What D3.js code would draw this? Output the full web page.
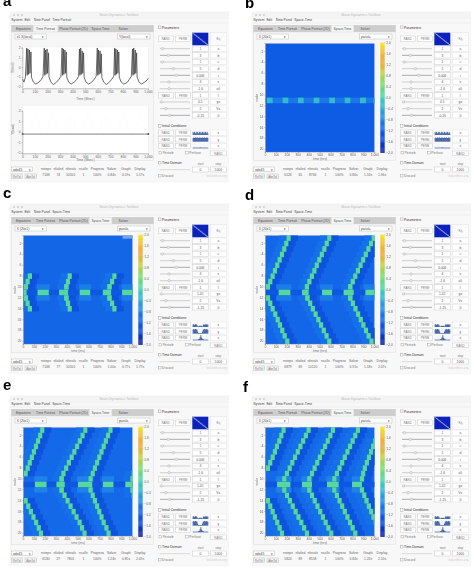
<!DOCTYPE html>
<html>
<head>
<meta charset="utf-8">
<title>Brain Dynamics Toolbox</title>
<script src="https://d3js.org/d3.v7.min.js"></script>
<style>
html, body { margin: 0; padding: 0; background: #fff; }
svg { display: block; }
text { font-family: "Liberation Sans", sans-serif; }
.soft { filter: blur(0.6px); }
</style>
</head>
<body>
<svg id="fig" width="474" height="568"></svg>
<script>
// menus and tabs
var tabNames = ["Equations", "Time Portrait", "Phase Portrait (2D)", "Space-Time", "Solver"];
var menuA = ["System", "Edit", "New Panel", "Time Portrait"];
var menuB = ["System", "Edit", "New Panel", "Space-Time"];
var statHead = ["nsteps", "nfailed", "nfevals", "ncalls", "Progress", "Solver", "Graph", "Display"];
var statA = ["7168", "74", "10501", "1", "100%", "0.84s", "0.19s", "1.17s"];
var statB = ["6126", "65", "8766", "1", "100%", "0.80s", "1.16s", "1.96s"];
var statC = ["7168", "77", "10501", "1", "100%", "1.00s", "0.77s", "1.77s"];
var statD = ["6879", "69", "10120", "1", "100%", "0.91s", "1.18s", "2.07s"];
var statE = ["6530", "27", "7801", "1", "100%", "1.24s", "0.85s", "2.09s"];
var statF = ["5824", "89", "8558", "1", "100%", "0.84s", "1.26s", "2.10s"];

// parameter rows
var paramNames = ["a", "b", "c", "d", "r", "s", "x0", "I", "gs", "Vs", "θ"];
var paramVals = ["1", "3", "1", "5", "0.006", "4", "-1.6", "1", "0.1", "2", "-0.25"];
var paramVals2 = ["1", "3", "1", "5", "0.006", "4", "-1.6", "1", "1.41", "2", "-1.25"];
var sliderPos = [0.08, 0.28, 0.08, 0.45, 0.55, 0.3, 0.3, 0, 0.05, 0.2, 0.32];
var icNames = ["x", "y", "z"];
var trainTicks = [2, 4, 6, 8, 10, 12, 14, 16, 18, 20];
var timeTicks = [0, 100, 200, 300, 400, 500, 600, 700, 800, 900, 1000];
var cbarTicks = [-2, -1.6, -1.2, -0.8, -0.4, 0, 0.4, 0.8, 1.2, 1.6, 2];

// initial condition thumbnails, 20 nodes each
var icFlatX = [.5,.2,.5,.2,.5,.2,.5,.2,.5,.2,.5,.2,.5,.2,.5,.2,.5,.2,.5,.2];
var icFlatY = [.6,.7,.6,.7,.6,.7,.7,.6,.7,.6,.7,.6,.7,.6,.7,.7,.6,.7,.6,.7];
var icFlatZ = [0,0,0,0,0,0,0,0,0,.05,.05,0,0,0,0,0,0,0,0,0];
var icBumpX = [.4,.4,.3,.4,.4,.3,0,0,.1,.1,.1,.1,0,.3,.4,.3,.4,.4,.3,.4];
var icBumpY = [.7,.8,.7,.8,.7,.7,.3,0,0,0,0,0,.3,.7,.7,.8,.7,.8,.7,.7];
var icBumpZ = [0,0,0,0,0,0,0,.1,.2,.5,.9,.4,.2,.1,0,0,0,0,0,0];

// panel a, top trace (msec, x)
var traceT = [0,10,22,32,36,42,46,54,58,66,70,85,105,130,150,162,
  172,176,182,186,194,198,206,210,225,245,270,290,305,
  314,318,324,328,336,340,347,351,366,386,410,430,445,
  452,456,462,466,474,478,485,489,504,525,550,570,585,
  594,598,604,608,616,620,626,630,645,665,690,710,725,
  732,736,742,746,754,758,765,769,784,805,830,850,865,
  874,878,884,888,896,900,907,911,926,945,970,990,1000];
var traceV = [-1.2,-1.5,-1,2,-.8,1.9,-.7,1.8,-.6,1.6,-1,-1.5,-1.7,-1.5,-1.2,-.9,
  2,-.8,1.8,-.7,1.9,-.6,1.5,-1,-1.5,-1.75,-1.5,-1.2,-.9,
  2,-.8,1.9,-.7,1.8,-.6,1.6,-1,-1.5,-1.7,-1.5,-1.25,-.9,
  1.9,-.8,2,-.7,1.7,-.6,1.5,-1,-1.5,-1.7,-1.5,-1.2,-.9,
  2,-.8,1.8,-.7,1.7,-.6,1.4,-1,-1.5,-1.75,-1.5,-1.2,-.9,
  2,-.8,1.9,-.7,1.8,-.6,1.6,-1,-1.5,-1.7,-1.55,-1.2,-.9,
  1.9,-.8,2,-.7,1.8,-.6,1.5,-1,-1.5,-1.7,-1.5,-1.3,-1.1];
// panel a, lower plot
var lowT = [0,1000];
var lowV = [-.2,-.2];
var archT = [50,75,100,125,150,null,190,215,240,265,290,null,330,355,380,405,430,null,470,495,520,545,570,null,610,635,660,685,710,null,750,775,800,825,850,null,890,915,940,965];
var archV = [0,1,1.5,1,0,null,0,1.1,1.6,1,0,null,0,1,1.5,1.1,0,null,0,1,1.7,1,0,null,0,1.1,1.5,1,0,null,0,1,1.6,1,0,null,0,1.1,1.5,.8];

// panel b
var bPatches = [[15,67],[158,210],[299,351],[442,494],[585,637],[726,778],[866,920],[990,1000]];

// panel c
var cFronts = [
  [null,null,null,null,null,null,null,45,24,9,null,9,24,45,null,null,null,null,null,null],
  [null,null,null,null,null,null,null,409,394,379,null,379,394,409,null,null,null,null,null,null],
  [null,null,null,null,null,null,null,818,797,773,null,773,797,818,null,null,null,null,null,null]];
var cPatches = [[0,30],[130,233],[327,409],[515,612],[727,803],[903,1000]];
var cHalos = [[125,240],[510,620],[900,1000]];

// panel d
var dFronts = [
  [198,177,158,137,116,94,73,52,30,9,null,9,30,52,76,98,119,140,162,186],
  [570,547,525,502,479,456,434,411,388,366,null,370,395,420,445,470,495,520,545,570],
  [976,952,928,904,880,856,832,808,785,762,null,762,786,810,834,858,882,906,930,956]];
var dPatches = [[122,229],[335,396],[518,610],[716,808],[915,1000]];
var dHalos = [[100,240],[500,620],[900,1000]];

// panel e
var eFronts = [
  [158,139,120,101,82,63,44,25,6,null,null,null,null,6,30,54,78,102,126,146],
  [552,527,502,477,452,427,402,377,352,335,null,335,362,390,417,445,472,500,522,545],
  [782,760,740,720,700,680,660,640,620,600,null,600,620,640,660,680,700,720,745,765],
  [null,null,null,null,null,null,null,null,995,985,null,985,995,null,null,null,null,null,null,null]];
var ePatches = [[106,212],[303,379],[500,630],[727,824],[933,1000]];
var eHalos = [[100,220],[490,640],[720,830]];

// panel f
var fFronts = [
  [152,131,113,91,73,52,30,9,null,null,null,null,null,9,30,52,73,94,116,137],
  [381,356,331,306,282,257,232,208,183,158,null,158,184,210,236,262,288,314,340,366],
  [604,580,556,532,508,484,460,436,412,387,null,387,412,437,462,487,512,537,562,588],
  [832,808,784,760,736,712,688,664,640,616,null,616,640,664,688,712,736,760,784,808],
  [null,null,990,971,952,933,914,895,880,869,null,869,890,911,932,953,974,995,null,null]];
var fPatches = [[107,229],[335,427],[564,671],[793,884]];
var fHalos = [[100,240],[330,430],[560,680],[790,890]];

// colour map
var colorVals = [-2, -1.55, -1.2, -0.9, -0.5, -0.2, 0.1, 0.5, 0.9, 1.3, 1.7, 2];
var colorHex = ["#0a1a9c", "#0b48d6", "#0f5fe6", "#1a78ea", "#2aa0e0", "#35c0c8", "#52d6a2", "#7cdc6c", "#c8d040", "#eca838", "#f2c02c", "#f8f020"];
var heat = d3.scaleLinear().domain(colorVals).range(colorHex).clamp(true);

var svg = d3.select("#fig");
var root = svg.append("g").attr("class", "soft");

function label(g, x, y, s, size, anchor, fill) {
  return g.append("text").attr("x", x).attr("y", y).text(s)
    .attr("font-size", size || 11)
    .attr("text-anchor", anchor || "start")
    .attr("fill", fill || "#777");
}
function box(g, x, y, w, h, fill, stroke) {
  return g.append("rect").attr("x", x).attr("y", y).attr("width", w).attr("height", h)
    .attr("fill", fill || "#fff").attr("stroke", stroke || "#ccc").attr("stroke-width", 1.5);
}

function styleAxis(a) {
  a.selectAll("path,line").attr("stroke", "#888").attr("stroke-width", 1.5);
  a.selectAll("text").attr("font-size", 10).attr("fill", "#666");
}

function drawShell(g, p) {
  box(g, 0, 0, 655, 510, "#f8f8f8", "#f2f2f2");
  box(g, 0, 0, 655, 20, "#f4f4f4", "#f2f2f2");
  [12, 24, 36].forEach(function (x) {
    g.append("circle").attr("cx", x).attr("cy", 9).attr("r", 3).attr("fill", "#ccc");
  });
  label(g, 327, 12, "Brain Dynamics Toolbox", 11, "middle", "#bbb");
  var mx = 4;
  p.menu.forEach(function (m) {
    label(g, mx, 28, m, 10, "start", "#444");
    mx += m.length * 5.2 + 8;
  });
  g.append("line").attr("x1", 0).attr("x2", 655).attr("y1", 33).attr("y2", 33).attr("stroke", "#ddd");

  // tabs
  box(g, 5, 40, 425, 20, "#cdcdcd", "#c8c8c8");
  var tabX = [10, 70, 143, 238, 305], tabW = [60, 73, 95, 67, 125];
  tabNames.forEach(function (t, i) {
    if (i === p.tab) g.append("rect").attr("x", tabX[i]).attr("y", 40).attr("width", tabW[i]).attr("height", 22).attr("fill", "#f5f5f5");
    label(g, tabX[i] + (i === 4 ? 35 : tabW[i] / 2), 54, t, 10, "middle", "#555");
  });
  box(g, 5, 60, 425, 385, "#f6f6f6", "#ddd");

  // dropdowns
  box(g, 15, 66, 95, 15, "#fff", "#bbb");
  label(g, 20, 77, p.left, 10, "start", "#444");
  label(g, 103, 77, "▾", 10, "end", "#222");
  box(g, 322, 66, 98, 15, "#fff", "#bbb");
  label(g, 327, 77, p.right, 10, "start", "#444");
  label(g, 415, 77, "▾", 10, "end", "#222");

  // solver bar
  box(g, 5, 465, 62, 14, "#fff", "#bbb");
  label(g, 9, 476, "ode45", 10, "start", "#444");
  label(g, 62, 476, "▾", 10, "end", "#222");
  box(g, 5, 486, 33, 14, "#f6f6f6", "#bbb");
  box(g, 45, 486, 34, 14, "#f6f6f6", "#bbb");
  label(g, 21, 497, "RelTol", 9, "middle");
  label(g, 62, 497, "AbsTol", 9, "middle");
  var statX = [108, 145, 182, 220, 262, 305, 348, 390];
  statHead.forEach(function (h, i) {
    label(g, statX[i], 474, h, 10, "middle", "#666");
    label(g, statX[i], 492, p.stats[i], 10, "middle", "#666");
  });
}

function checkbox(g, x, y, s, bold) {
  box(g, x, y - 8, 8, 8, "#fff", "#aaa");
  label(g, x + 11, y, s, 10, "start", bold ? "#333" : "#777");
}

function drawControls(g, p) {
  checkbox(g, 445, 50, "Parameters", true);
  box(g, 445, 72, 45, 16); label(g, 467, 84, "RAND", 9, "middle");
  box(g, 497, 72, 45, 16); label(g, 519, 84, "PERM", 9, "middle");

  // coupling matrix
  var mx = d3.scaleBand().domain(d3.range(20)).range([547, 595]);
  var my = d3.scaleBand().domain(d3.range(20)).range([62, 100]);
  var m = g.append("g");
  m.append("rect").attr("x", 547).attr("y", 62).attr("width", 48).attr("height", 38).attr("fill", "#0b22bd");
  d3.range(20).forEach(function (i) {
    m.append("rect").attr("x", mx(i)).attr("y", my(i)).attr("width", mx.bandwidth() * 1.5).attr("height", my.bandwidth() * 1.5).attr("fill", "#9aa6c8");
  });
  box(g, 601, 62, 48, 38, "#fbfbfb", "#e4e4e4");
  label(g, 625, 84, "Kij", 10, "middle");

  // parameter sliders
  var rows = [110, 130, 150, 170, 190, 210, 230, 250, 270, 290, 310];
  var sx = d3.scaleLinear().domain([0, 1]).range([450, 540]);
  paramNames.forEach(function (n, i) {
    var y = rows[i];
    if (i === 7) {
      box(g, 445, y - 8, 45, 16); label(g, 467, y + 4, "RAND", 9, "middle");
      box(g, 497, y - 8, 45, 16); label(g, 519, y + 4, "PERM", 9, "middle");
    } else {
      g.append("line").attr("x1", sx(0)).attr("x2", sx(1)).attr("y1", y).attr("y2", y)
        .attr("stroke", i % 3 === 1 ? "#888" : "#bbb").attr("stroke-width", 2);
      g.append("circle").attr("cx", sx(sliderPos[i])).attr("cy", y).attr("r", 4).attr("fill", "#e4e4e4").attr("stroke", "#aaa");
    }
    box(g, 548, y - 8, 47, 16, "#fff", "#ccc");
    label(g, 571, y + 4, p.vals[i], 10, "middle", "#555");
    box(g, 602, y - 8, 47, 16, "#fff", "#e4e4e4");
    label(g, 625, y + 4, n, 10, "middle", "#555");
  });

  checkbox(g, 445, 346, "Initial Conditions", true);
  var icy = [362, 382, 402];
  icNames.forEach(function (n, i) {
    var y = icy[i];
    box(g, 445, y - 8, 45, 16); label(g, 467, y + 4, "RAND", 9, "middle");
    box(g, 497, y - 8, 45, 16); label(g, 519, y + 4, "PERM", 9, "middle");
    var bx = d3.scaleBand().domain(d3.range(20)).range([548, 595]).padding(0.1);
    var by = d3.scaleLinear().domain([0, 1]).range([y + 7, y - 8]);
    g.append("g").selectAll("rect").data(p.ic[i]).join("rect")
      .attr("x", function (d, j) { return bx(j); })
      .attr("y", function (d) { return by(d) - 2; })
      .attr("width", bx.bandwidth())
      .attr("height", function (d) { return by(0) - by(d) + 2; })
      .attr("fill", "#123a8c");
    box(g, 602, y - 8, 47, 16, "#fff", "#e4e4e4");
    label(g, 625, y + 4, n, 10, "middle", "#555");
  });
  checkbox(g, 447, 426, "Perturb");
  checkbox(g, 527, 426, "Perfuse");
  box(g, 602, 417, 47, 14); label(g, 625, 428, "RAND", 9, "middle");

  checkbox(g, 445, 456, "Time Domain", true);
  label(g, 572, 459, "start", 9, "middle");
  label(g, 625, 459, "stop", 9, "middle");
  g.append("line").attr("x1", 450).attr("x2", 540).attr("y1", 473).attr("y2", 473).attr("stroke", "#ccc").attr("stroke-width", 2);
  box(g, 548, 465, 47, 15); label(g, 571, 477, "0", 10, "middle", "#555");
  box(g, 602, 465, 47, 15); label(g, 625, 477, "1000", 10, "middle", "#555");
  checkbox(g, 445, 495, "Discard");
  label(g, 650, 495, "bdtoolbox.org", 10, "end", "#d0d0d0");
}

function drawTime(g) {
  var xt = d3.scaleLinear().domain([0, 1000]).range([38, 415]);
  var yTop = d3.scaleLinear().domain([-2, 2]).range([225, 108]);
  var yLow = d3.scaleLinear().domain([-2, 2]).range([423, 297]);
  box(g, 38, 105, 377, 125, "#fff", "#eee");
  box(g, 38, 280, 377, 145, "#fff", "#eee");

  var low = d3.line().defined(function (d) { return d[1] !== null; })
    .x(function (d) { return xt(d[0]); })
    .y(function (d) { return d.y(d[1]); });

  var topPts = traceT.map(function (t, i) { var d = [t, traceV[i]]; d.y = yTop; return d; });
  g.append("path").attr("d", low(topPts)).attr("fill", "none").attr("stroke", "#444").attr("stroke-width", 2.4);

  var archPts = archT.map(function (t, i) { var d = [t, archV[i]]; d.y = yLow; return d; });
  g.append("path").attr("d", low(archPts)).attr("fill", "none").attr("stroke", "#eee").attr("stroke-width", 1.5).attr("stroke-dasharray", "3 4");
  var lowPts = lowT.map(function (t, i) { var d = [t, lowV[i]]; d.y = yLow; return d; });
  g.append("path").attr("d", low(lowPts)).attr("fill", "none").attr("stroke", "#666").attr("stroke-width", 2.5);
  lowPts.forEach(function (d) {
    g.append("circle").attr("cx", xt(d[0])).attr("cy", yLow(d[1])).attr("r", 3).attr("fill", "#555");
  });

  var a1 = g.append("g").attr("transform", "translate(0,230)").call(d3.axisBottom(xt).tickValues(timeTicks).tickSize(3));
  var a2 = g.append("g").attr("transform", "translate(38,0)").call(d3.axisLeft(yTop).ticks(5).tickFormat(d3.format("d")).tickSize(3));
  var a3 = g.append("g").attr("transform", "translate(0,425)").call(d3.axisBottom(xt).tickValues(timeTicks).tickSize(3));
  var a4 = g.append("g").attr("transform", "translate(38,0)").call(d3.axisLeft(yLow).ticks(5).tickFormat(d3.format("d")).tickSize(3));
  [a1, a2, a3, a4].forEach(styleAxis);
  label(g, 226, 264, "Time (Msec)", 10, "middle");
  label(g, 226, 447, "Time (Msec)", 10, "middle");
  label(g, 12, 168, "X(local)", 9, "middle").attr("transform", "rotate(-90 12 168)");
  label(g, 12, 352, "Y(local)", 9, "middle").attr("transform", "rotate(-90 12 352)");
}

function drawHeat(g, p, id) {
  var x = d3.scaleLinear().domain([0, 1000]).range([p.hx, p.hx + 328]);
  var y = d3.scaleBand().domain(d3.range(20)).range([p.hy, p.hy + 326]);
  var h = y.bandwidth();

  g.append("clipPath").attr("id", "clip" + id).append("rect")
    .attr("x", p.hx).attr("y", p.hy).attr("width", 328).attr("height", 326);
  var m = g.append("g").attr("clip-path", "url(#clip" + id + ")");

  function cell(t0, t1, r, rows, v) {
    m.append("rect").attr("x", x(t0)).attr("y", y(r)).attr("width", x(t1) - x(t0)).attr("height", h * rows + 0.3).attr("fill", heat(v));
  }
  cell(0, 1000, 0, 20, p.base);

  // light lead-in then dark wake around every front cell
  p.fronts.forEach(function (f) {
    f.forEach(function (t, r) { if (t !== null) cell(t - 70, t, r, 1, -1.0); });
  });
  p.fronts.forEach(function (f) {
    f.forEach(function (t, r) { if (t !== null) cell(t + 30, t + 100, r, 1, -1.38); });
  });
  p.fronts.forEach(function (f) {
    f.forEach(function (t, r) { if (t !== null) cell(t - 4, t + 34, r, 1, 0.15); });
  });

  p.halos.forEach(function (b) {
    cell(b[0], b[1], 9, 1, p.haloVal);
    cell(b[0], b[1], 11, 1, p.haloVal);
  });
  p.fronts.forEach(function (f) {
    [9, 11].forEach(function (r) { if (f[r] !== null) cell(f[r] - 4, f[r] + 34, r, 1, 0.15); });
  });
  cell(0, 1000, 10, 1, p.rowVal);
  p.patches.forEach(function (b) { cell(b[0], b[1], 10, 1, p.patchVal); });

  if (p.tool) {
    m.append("rect").attr("x", p.hx + 298).attr("y", p.hy).attr("width", 30).attr("height", 10).attr("fill", "#7aa4e8");
  }

  // axes
  var ax = g.append("g").attr("transform", "translate(0," + (p.hy + 326) + ")")
    .call(d3.axisBottom(x).tickValues(timeTicks).tickSize(3));
  var ay = g.append("g").attr("transform", "translate(" + p.hx + ",0)")
    .call(d3.axisLeft(y).tickValues(trainTicks.map(function (d) { return d - 1; })).tickFormat(function (d) { return d + 1; }).tickSize(3));
  styleAxis(ax); styleAxis(ay);
  label(g, p.hx + 164, p.hy + 350, "time (ms)", 10, "middle");
  label(g, p.hx - 22, p.hy + 163, "node", 10, "middle").attr("transform", "rotate(-90 " + (p.hx - 22) + " " + (p.hy + 163) + ")");

  // colour bar
  var cy = d3.scaleLinear().domain([-2, 2]).range([p.hy + 328, p.hy - 2]);
  var steps = d3.range(-2, 2, 0.04);
  g.append("g").selectAll("rect").data(steps).join("rect")
    .attr("x", p.hx + 345).attr("width", 13)
    .attr("y", function (d) { return cy(d + 0.04); })
    .attr("height", function (d) { return cy(d) - cy(d + 0.04) + 0.5; })
    .attr("fill", function (d) { return heat(d); });
  var ac = g.append("g").attr("transform", "translate(" + (p.hx + 358) + ",0)")
    .call(d3.axisRight(cy).tickValues(cbarTicks).tickFormat(d3.format(".1f")).tickSize(2));
  styleAxis(ac);
  ac.select(".domain").attr("stroke", "none");
}

var panels = [
  { name: "a", lx: 3, ly: 6, wx: 10, wy: 12, tab: 1, menu: menuA, stats: statA, left: "x1 X(local)", right: "Y(local)", vals: paramVals, ic: [icFlatX, icFlatY, icFlatZ] },
  { name: "b", lx: 245, ly: 8, wx: 252, wy: 12, tab: 3, menu: menuB, stats: statB, left: "X (20x1)", right: "parula", vals: paramVals, ic: [icFlatX, icFlatY, icFlatZ],
    fronts: [], patches: bPatches, halos: [], base: -1.25, haloVal: -1.2, rowVal: -0.9, patchVal: -0.25 },
  { name: "c", lx: 3, ly: 198, wx: 10, wy: 204, tab: 3, menu: menuB, stats: statC, left: "X (20x1)", right: "parula", vals: paramVals2, ic: [icBumpX, icBumpY, icBumpZ], tool: true,
    fronts: cFronts, patches: cPatches, halos: cHalos, base: -1.1, haloVal: -0.85, rowVal: -1.3, patchVal: 0.1 },
  { name: "d", lx: 245, ly: 200, wx: 252, wy: 204, tab: 3, menu: menuB, stats: statD, left: "X (20x1)", right: "parula", vals: paramVals2, ic: [icBumpX, icBumpY, icBumpZ],
    fronts: dFronts, patches: dPatches, halos: dHalos, base: -1.12, haloVal: -0.85, rowVal: -1.3, patchVal: 0.15 },
  { name: "e", lx: 3, ly: 390, wx: 10, wy: 396, tab: 3, menu: menuB, stats: statE, left: "X (20x1)", right: "parula", vals: paramVals2, ic: [icBumpX, icBumpY, icBumpZ],
    fronts: eFronts, patches: ePatches, halos: eHalos, base: -1.08, haloVal: -0.8, rowVal: -1.3, patchVal: 0.15 },
  { name: "f", lx: 243, ly: 392, wx: 252, wy: 396, tab: 3, menu: menuB, stats: statF, left: "X (20x1)", right: "parula", vals: paramVals2, ic: [icBumpX, icBumpY, icBumpZ],
    fronts: fFronts, patches: fPatches, halos: fHalos, base: -1.08, haloVal: -0.8, rowVal: -1.3, patchVal: 0.15 }
];

panels.forEach(function (p, i) {
  var g = root.append("g").attr("transform", "translate(" + p.wx + "," + p.wy + ") scale(0.3333)");
  drawShell(g, p);
  drawControls(g, p);
  if (p.name === "a") {
    drawTime(g);
  } else {
    p.hx = 40;
    p.hy = 94;
    drawHeat(g, p, i);
  }
});

panels.forEach(function (p) {
  svg.append("text").attr("x", p.lx).attr("y", p.ly).text(p.name)
    .attr("font-size", 15).attr("font-weight", "bold").attr("fill", "#000")
    .style("font-family", "'Liberation Sans', sans-serif");
});
</script>
</body>
</html>
